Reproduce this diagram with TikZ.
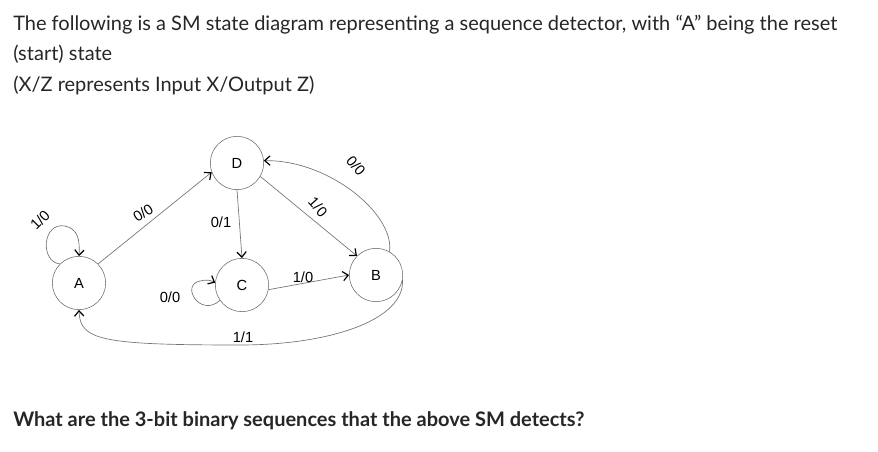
\documentclass[tikz,border=0pt]{standalone}
\usepackage{fontspec}
\setmainfont{Lato}
\newfontfamily\arialf{Liberation Sans}
\usetikzlibrary{arrows.meta}
\begin{document}
\begin{tikzpicture}[x=0.75pt,y=-0.75pt,
  st/.style={draw=black!60,circle,minimum size=40pt,inner sep=0pt,font=\arialf\fontsize{11}{13}\selectfont},
  tr/.style={draw=black!55,line width=0.5pt,-{Straight Barb[length=4pt,width=7pt,line width=0.9pt,black]}},
  lb/.style={font=\arialf\fontsize{11}{13}\selectfont,inner sep=1pt},
  txt/.style={anchor=west,inner sep=0pt,font=\fontsize{15}{18}\selectfont,text=black!85}]
\useasboundingbox (0,0) rectangle (878,452);
\node[txt] (t1) at (13,25) {The following is a SM state diagram representing a sequence detector, with “A” being the reset};
\node[txt] (t2) at (13,54) {(start) state};
\node[txt] (t3) at (13,85) {(X/Z represents Input X/Output Z)};
\node[txt,font=\bfseries\fontsize{15}{18}\selectfont] (t4) at (13,421) {What are the 3-bit binary sequences that the above SM detects?};
\node[st] (A) at (79,283) {A};
\node[st] (D) at (237,163) {D};
\node[st] (C) at (242,285) {C};
\node[st] (B) at (376,275) {B};
\draw[tr] (A.135) .. controls (40,262) and (42,222) .. (65,226) .. controls (78,229) and (80,240) .. (A.north);
\node[lb,rotate=45] (l1) at (40,220) {1/0};
\draw[tr] (A.45) -- (D.200);
\node[lb,rotate=33] (l2) at (143,213) {0/0};
\draw[tr] (D.south) -- (C.north);
\node[lb] (l3) at (221,222) {0/1};
\draw[tr] (D.-30) -- (B.135);
\node[lb,rotate=-48] (l4) at (318,207) {1/0};
\draw[tr] (B.60) .. controls (395,215) and (330,160) .. (D.5);
\node[lb,rotate=-50] (l5) at (356,166) {0/0};
\draw[tr] (C.-145) .. controls (200,318) and (180,285) .. (200,281) .. controls (208,279) and (212,281) .. (C.175);
\node[lb] (l6) at (170,297) {0/0};
\draw[tr] (C.-10) -- (B.180);
\node[lb] (l7) at (303,277) {1/0};
\draw[tr] (B.-10) .. controls (405,320) and (330,345) .. (240,345) .. controls (100,345) and (80,340) .. (A.south);
\node[lb] (l8) at (243,337) {1/1};
\end{tikzpicture}
\end{document}
